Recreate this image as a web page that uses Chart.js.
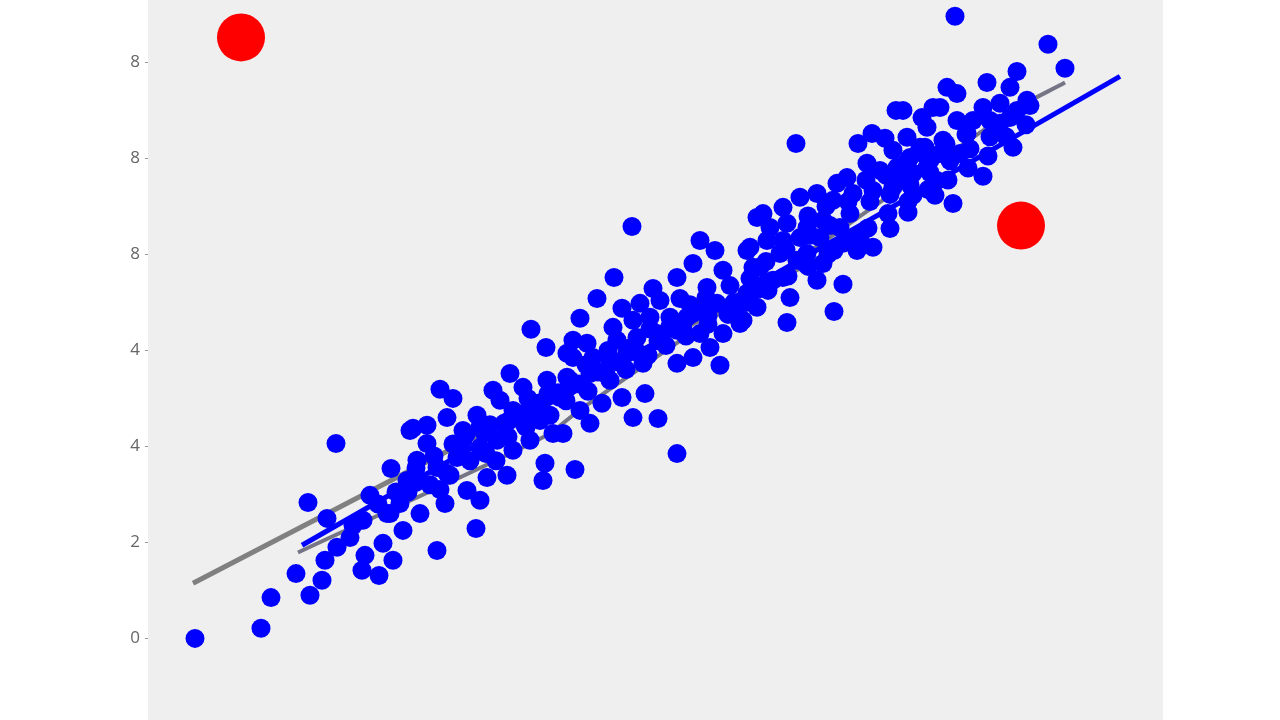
<!DOCTYPE html>
<html lang="en">
  <head>
    <meta charset="utf-8" />
    <title>Scatter</title>
    <script src="https://cdn.jsdelivr.net/npm/chart.js@4.4.1/dist/chart.umd.min.js"></script>
    <style>
      * { margin: 0; padding: 0; box-sizing: border-box; }
      body { background: #ffffff; width: 1280px; height: 720px; overflow: hidden; }
      #chart { display: block; }
    </style>
  </head>
  <body>
    <canvas id="chart" width="1280" height="720"></canvas>
    <script>
      // blue observations [x, y]
      const bluePoints = [
        [0.47,0.00],[1.13,0.21],[1.23,0.85],[1.62,0.90],[1.48,1.35],[1.74,1.21],[1.60,2.83],[1.88,4.06],
        [2.31,1.31],[2.14,1.42],[2.45,1.63],[2.89,1.83],[3.28,2.29],[4.27,3.52],[5.29,3.85],[4.85,4.60],
        [5.10,4.58],[4.84,8.58],[6.48,10.31],[8.07,12.96],[9.00,12.38],[9.17,11.88],[8.05,9.06],[8.35,9.63],
        [8.65,10.23],[6.39,6.58],[6.86,6.81],[6.95,7.38],[6.69,7.46],[4.66,7.52],[4.49,7.08],[4.32,6.67],
        [3.83,6.44],[3.98,6.06],[2.92,5.19],[3.05,5.00],[2.43,3.54],[3.62,5.52],[3.75,5.23],[3.95,3.29],
        [3.97,3.65],[5.52,8.29],[5.72,5.69],[5.29,5.73],[4.97,5.10],[7.48,11.00],[7.99,11.48],[8.39,11.58],
        [8.69,11.81],[8.79,11.21],
        [2.62,4.33],[2.22,2.98],[1.79,2.50],[2.02,2.10],[1.77,1.63],[1.89,1.90],[2.15,2.46],[2.39,2.60],
        [2.35,1.98],[2.17,1.73],[2.55,2.25],[2.52,2.81],
        [3.45,5.17],[2.65,4.38],[2.79,4.44],[2.99,4.60],[3.29,4.65],[3.15,4.33],[3.52,4.96],[3.99,5.38],
        [4.19,5.94],[4.12,5.02],[2.79,4.06],[2.69,3.71],[2.89,3.56],[3.09,3.77],[3.32,3.98],[3.49,4.13],
        [3.65,3.92],[3.82,4.13],[4.05,4.27],[3.19,3.08],[2.97,2.81],[3.32,2.88],[3.39,3.35],[3.59,3.40],
        [2.72,2.60],[2.59,3.29],[2.99,3.44],[3.15,4.13],[3.32,4.40],[3.65,4.75],[3.85,4.75],[4.19,5.44],
        [4.25,6.21],[2.42,2.60],[3.92,4.54],[3.77,4.44],
        [5.67,8.08],[5.29,7.52],[5.45,7.81],[5.05,7.29],[4.74,6.88],[4.92,6.98],[5.12,7.04],[5.32,7.08],
        [5.59,7.31],[5.75,7.67],[5.99,8.08],[6.09,8.77],[6.05,7.73],[5.99,7.19],[5.85,6.83],[5.69,6.98],
        [5.52,6.83],[5.39,6.69],[5.22,6.69],[5.02,6.69],[4.85,6.63],[4.65,6.48],[4.69,6.21],[4.89,6.27],
        [5.09,6.35],[5.29,6.42],[5.52,6.35],[5.75,6.35],[5.92,6.56],[5.62,6.06],[5.45,5.85],[4.39,6.15],
        [4.25,5.85],[4.45,5.85],[4.62,5.79],[4.79,5.94],[4.95,5.73],[4.22,5.38],[4.42,5.52],[4.62,5.38],
        [4.74,5.02],[4.54,4.90],[4.32,4.75],[4.42,4.48],[4.15,4.27],
        [7.10,10.31],[7.24,10.52],[7.37,10.42],[7.59,10.44],[7.74,10.85],[7.85,11.06],[7.77,10.23],[7.45,10.17],
        [7.19,9.90],[6.99,9.60],[6.89,9.48],[7.32,9.75],[7.49,9.81],[7.65,9.69],[7.82,9.96],[7.89,9.54],
        [6.69,9.27],[6.52,9.19],[6.35,8.98],[6.15,8.85],[6.85,9.13],[7.05,9.27],[7.25,9.33],[7.45,9.40],
        [7.60,8.88],[7.42,8.54],[7.25,8.15],[7.12,8.35],[6.92,8.56],[6.75,8.71],[6.59,8.56],[6.39,8.65],
        [6.22,8.56],[6.02,8.15],[6.19,8.29],[6.35,8.29],[6.52,8.35],[6.72,8.35],[6.95,8.23],[7.09,8.08],
        [6.59,8.02],[6.75,7.81],[6.49,7.88],[6.32,8.02],[6.12,7.73],[6.25,7.46],[6.05,7.25],[6.42,7.10],
        [5.95,6.63],[6.09,6.90],[6.19,7.42],
        [8.62,11.48],[8.52,11.15],[8.35,11.06],[8.69,11.00],[8.42,10.79],[8.25,10.79],[8.09,10.79],[7.92,11.06],
        [7.55,11.00],[7.79,10.65],[7.95,10.38],[8.19,10.52],[8.52,10.73],[8.12,10.10],[7.92,10.10],[7.72,10.23],
        [7.62,10.02],[7.79,9.81],[7.55,9.60],[8.09,11.35],[7.65,9.23],[7.87,9.23],
        // dense core of the band
        [2.60,3.05],[2.68,3.55],[2.82,3.20],[2.86,3.80],[3.02,3.40],[3.05,4.05],[3.22,3.70],[3.18,4.25],
        [3.38,3.85],[3.42,4.45],[3.60,4.20],[3.62,4.55],[3.78,4.40],[3.80,5.00],[4.02,4.65],[4.00,5.10],
        [4.18,4.95],[4.22,5.25],[4.40,5.15],[4.38,5.70],[4.58,5.50],[4.60,6.00],[4.78,5.60],[4.82,6.05],
        [5.00,5.90],[5.02,6.45],[5.18,6.10],[5.22,6.50],[5.38,6.30],[5.42,6.95],[5.60,6.55],[5.58,7.10],
        [5.80,6.75],[5.82,7.35],[5.98,7.00],[6.02,7.50],[6.20,7.25],[6.18,7.85],[6.40,7.55],[6.38,8.10],
        [6.60,7.75],[6.62,8.40],[6.60,8.80],[6.80,8.00],[6.82,8.60],[6.78,9.00],[7.00,8.30],[7.02,8.85],
        [7.00,9.10],[7.20,8.55],[7.22,9.10],[7.18,9.55],[7.40,8.85],[7.42,9.25],[7.38,9.65],[7.60,9.10],
        [7.62,9.45],[7.58,9.90],[7.80,9.35],[7.82,9.70],[7.78,10.05],[8.00,9.55],[8.02,9.95],[7.98,10.30],
        [8.20,9.80],[8.22,10.20],[8.18,10.50],[8.40,10.05],[8.42,10.45],[8.58,10.45],[8.62,10.85],[8.78,10.70],
        [8.82,11.10],
        [3.12,4.02],[3.36,4.30],[3.56,4.48],[3.71,4.68],[3.90,4.90],[4.10,5.12],[4.31,5.30],[4.50,5.55],
        [4.70,5.76],[4.90,5.95],[5.10,6.20],[5.35,6.45],[5.60,6.72],[5.86,7.00],[6.10,7.28],[6.35,7.52],
        [6.58,7.80],[6.86,8.08],[2.30,2.80],[2.48,3.05],[2.05,2.35],[2.68,3.25],[2.92,3.10],[3.48,3.70]
      ];

      // red outliers
      const redX = [0.93, 8.73];
      const redY = [12.52, 8.60];

      // fitted lines
      const fitX = [1.54, 9.72];
      const fitY = [1.94, 11.71];
      const grayX = [0.45, 6.90];
      const grayY = [1.15, 8.13];
      const smoothX = [1.50, 3.95, 4.35, 6.52, 8.62, 9.17];
      const smoothY = [1.79, 4.19, 4.81, 7.92, 10.96, 11.58];

      // y axis
      const tickValues = [0, 2, 4, 6, 8, 10, 12];
      const tickLabels = ["0", "2", "4", "4", "8", "8", "8"];

      const toXY = (xs, ys) => xs.map((x, i) => ({ x: x, y: ys[i] }));

      const plotBg = {
        id: "plotBg",
        beforeDraw(chart) {
          const { ctx, chartArea } = chart;
          ctx.save();
          ctx.fillStyle = "#efefef";
          ctx.fillRect(chartArea.left, chartArea.top, chartArea.right - chartArea.left, chartArea.bottom - chartArea.top);
          ctx.restore();
        }
      };

      new Chart(document.getElementById("chart"), {
        type: "scatter",
        plugins: [plotBg],
        data: {
          datasets: [
            {
              data: toXY(redX, redY),
              backgroundColor: "#ff0000",
              borderWidth: 0,
              pointRadius: 24,
              order: 0
            },
            {
              data: bluePoints.map(p => ({ x: p[0], y: p[1] })),
              backgroundColor: "#0000ff",
              borderWidth: 0,
              pointRadius: 9.5,
              order: 1
            },
            {
              data: toXY(fitX, fitY),
              showLine: true,
              borderColor: "#0000ff",
              borderWidth: 5,
              pointRadius: 0,
              order: 2
            },
            {
              data: toXY(smoothX, smoothY),
              showLine: true,
              borderColor: "rgba(95,95,115,0.85)",
              borderWidth: 4,
              tension: 0.3,
              pointRadius: 0,
              order: 3
            },
            {
              data: toXY(grayX, grayY),
              showLine: true,
              borderColor: "#808080",
              borderWidth: 5,
              pointRadius: 0,
              order: 4
            }
          ]
        },
        options: {
          responsive: false,
          animation: false,
          devicePixelRatio: 1,
          layout: { autoPadding: false, padding: { left: 0, right: 117, top: 0, bottom: 0 } },
          plugins: {
            legend: { display: false },
            tooltip: { enabled: false }
          },
          scales: {
            x: {
              type: "linear",
              min: 0,
              max: 10.15,
              display: false
            },
            y: {
              type: "linear",
              min: -1.7,
              max: 13.3,
              afterBuildTicks: (scale) => {
                scale.ticks = tickValues.map(v => ({ value: v }));
              },
              afterFit: (scale) => {
                scale.width = 148;
                scale.paddingTop = 0;
                scale.paddingBottom = 0;
              },
              border: { display: false },
              grid: {
                drawOnChartArea: false,
                drawTicks: true,
                tickLength: 3,
                color: "#999999"
              },
              ticks: {
                padding: 5,
                color: "#666666",
                font: { family: "'Open Sans', sans-serif", size: 17 },
                callback: (value, index) => tickLabels[index]
              }
            }
          }
        }
      });
    </script>
  </body>
</html>
